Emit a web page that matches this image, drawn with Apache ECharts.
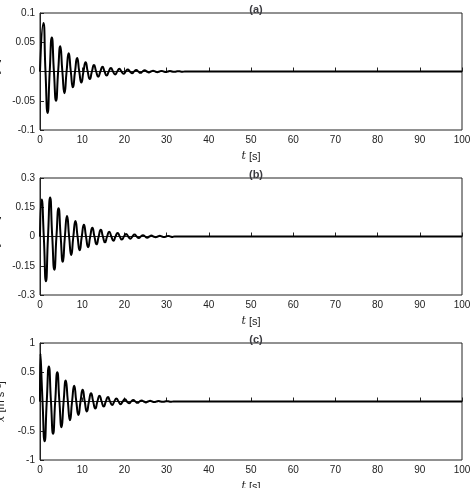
<!DOCTYPE html>
<html>
<head>
<meta charset="utf-8">
<script src="https://cdn.jsdelivr.net/npm/echarts@6/dist/echarts.min.js"></script>
<style>html,body{margin:0;background:#fff}#main{width:474px;height:488px}</style>
</head>
<body>
<div id="main"></div>
<script>
// extrema: time [s] of first extremum, spacing 1 s, alternating sign
const tFirst = [0.8, 0.4, 0.1];
const dispPeaks = [0.083, -0.071, 0.058, -0.05, 0.043, -0.037, 0.031, -0.027, 0.023, -0.019, 0.016, -0.013, 0.011, -0.009, 0.008, -0.007, 0.006, -0.005, 0.0045, -0.004, 0.0035, -0.003, 0.0026, -0.0022, 0.002, -0.0017, 0.0014, -0.0012, 0.001, -0.0008, 0.0007, -0.0006, 0.0005, -0.0004];
const velPeaks = [0.19, -0.23, 0.2, -0.17, 0.145, -0.13, 0.105, -0.095, 0.08, -0.07, 0.06, -0.055, 0.045, -0.04, 0.035, -0.03, 0.025, -0.022, 0.018, -0.016, 0.013, -0.011, 0.01, -0.008, 0.007, -0.006, 0.005, -0.004, 0.0035, -0.003, 0.0025, -0.002];
const accPeaks = [0.82, -0.68, 0.6, -0.55, 0.5, -0.44, 0.36, -0.32, 0.27, -0.23, 0.2, -0.17, 0.14, -0.12, 0.1, -0.085, 0.075, -0.06, 0.05, -0.045, 0.04, -0.03, 0.025, -0.022, 0.018, -0.015, 0.012, -0.01, 0.008, -0.006, 0.005, -0.004];
const panelTitles = ['(a)', '(b)', '(c)'];
const yNames = ['{i|x} [m]', '{i|ẋ} [m s⁻¹]', '{i|ẍ} [m s⁻²]'];
const yRanges = [[-0.1, 0.1, 0.05], [-0.3, 0.3, 0.15], [-1, 1, 0.5]];

function buildSeries(t0, peaks) {
  const pts = [[0, 0]];
  peaks.forEach((v, i) => {
    const t = t0 + i;
    if (i > 0) pts.push([t - 0.5, 0]);
    pts.push([t, v]);
  });
  pts.push([t0 + peaks.length - 0.5, 0]);
  pts.push([100, 0]);
  return pts;
}

const tops = [13, 178, 343];
const font = 'Liberation Sans, Arial, sans-serif';
const option = {
  animation: false,
  textStyle: { fontFamily: font },
  title: panelTitles.map((t, i) => ({
    text: t, left: 251, top: tops[i] - 14, textAlign: 'center',
    textStyle: { fontSize: 11, fontWeight: 'bold', fontFamily: font }
  })),
  grid: tops.map(t => ({ left: 40, right: 12, top: t, height: 117, show: true, borderColor: '#222', borderWidth: 1, containLabel: false, outerBoundsMode: 'none' })),
  xAxis: tops.map((t, i) => ({
    type: 'value', gridIndex: i, min: 0, max: 100, interval: 10,
    name: '{i|t} [s]', nameLocation: 'middle', nameGap: 21,
    nameTextStyle: { fontSize: 11, color: '#222', rich: { i: { fontStyle: 'italic', fontFamily: 'DejaVu Serif', fontSize: 11 } } },
    axisLine: { lineStyle: { color: '#222' } },
    axisTick: { inside: true, length: 4, lineStyle: { color: '#222' } },
    axisLabel: { fontSize: 10, color: '#222', margin: 5 },
    splitLine: { show: false }
  })),
  yAxis: yRanges.map((r, i) => ({
    type: 'value', gridIndex: i, min: r[0], max: r[1], interval: r[2],
    name: yNames[i], nameLocation: 'middle', nameGap: 28,
    nameTextStyle: { fontSize: 11, color: '#222', rich: { i: { fontStyle: 'italic', fontFamily: 'DejaVu Serif', fontSize: 11 } } },
    axisLine: { show: true, lineStyle: { color: '#222' } },
    axisTick: { inside: true, length: 4, lineStyle: { color: '#222' } },
    axisLabel: { fontSize: 10, color: '#222', margin: 5 },
    splitLine: { show: false }
  })),
  series: [dispPeaks, velPeaks, accPeaks].map((p, i) => ({
    type: 'line', xAxisIndex: i, yAxisIndex: i, smooth: 0.6, showSymbol: false,
    data: buildSeries(tFirst[i], p),
    lineStyle: { color: '#000', width: 2 }
  }))
};
echarts.init(document.getElementById('main')).setOption(option);
</script>
</body>
</html>
